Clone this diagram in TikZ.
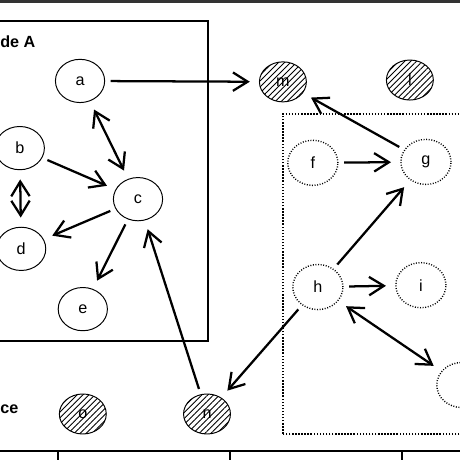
\documentclass[tikz,border=0pt]{standalone}
\usepackage{fontspec}
\setmainfont{Liberation Sans}
\usetikzlibrary{arrows.meta,shapes.geometric,patterns.meta}

\begin{document}
\begin{tikzpicture}[
    state/.style={ellipse,draw,line width=0.6pt,minimum width=1.07cm,minimum height=0.94cm,inner sep=0},
    outside/.style={state,pattern={Lines[angle=45,distance=2.6pt,line width=0.55pt]},minimum width=1.02cm,minimum height=0.87cm},
    hidden/.style={state,densely dotted,line width=0.85pt,minimum width=1.09cm,minimum height=0.98cm},
    arr/.style={-{Straight Barb[length=0.32cm,width=0.4cm]},line width=1.4pt,shorten >=0.2cm,shorten <=0.12cm},
    darr/.style={arr,{Straight Barb[length=0.32cm,width=0.4cm]}-{Straight Barb[length=0.32cm,width=0.4cm]},shorten <=0.2cm}]
    \useasboundingbox (0,0) rectangle (10,10);

    % Frame
    \fill[black!80] (-0.1,9.945) rectangle (10.1,10.1);
    \draw[line width=1.1pt] (-0.1,0.2) -- (10.1,0.2);
    \foreach \x in {1.26,5.0,8.74}
        \draw[line width=1.1pt] (\x,0.2) -- (\x,-0.1);

    % Boxes
    \draw[line width=1.1pt] (-0.2,2.59) rectangle (4.52,9.54);
    \draw[densely dotted,line width=0.9pt] (6.15,0.57) rectangle (10.3,7.52);

    % Labels
    \node[anchor=base west,inner sep=0,font=\bfseries] (lblA) at (0,8.96) {de A};
    \node[anchor=base west,inner sep=0,font=\bfseries] (lblB) at (0,1.0) {ce};

    % States in box A
    \node[state] (a) at (1.74,8.24) {a};
    \node[state] (b) at (0.43,6.78) {b};
    \node[state] (c) at (3.0,5.67) {c};
    \node[state] (d) at (0.46,4.59) {d};
    \node[state] (e) at (1.80,3.28) {e};

    % Hidden states
    \node[hidden] (f) at (6.80,6.46) {f};
    \node[hidden] (g) at (9.26,6.48) {g};
    \node[hidden] (h) at (6.91,3.76) {h};
    \node[hidden] (i) at (9.15,3.80) {i};
    \node[hidden] (j) at (10.04,1.63) {};

    % Outside states
    \node[outside] (m) at (6.15,8.22) {m};
    \node[outside] (l) at (8.91,8.26) {l};
    \node[outside] (o) at (1.80,1.0) {o};
    \node[outside] (n) at (4.5,1.0) {n};

    % Transitions
    \draw[arr] (a) -- (m);
    \draw[darr] (a) -- (c);
    \draw[arr] (b) -- (c);
    \draw[darr] (b) -- (d);
    \draw[arr] (c) -- (d);
    \draw[arr] (c) -- (e);
    \draw[arr] (n) -- (c);
    \draw[arr] (g) -- (m);
    \draw[arr] (f) -- (g);
    \draw[arr] (h) -- (g);
    \draw[arr] (h) -- (i);
    \draw[arr] (h) -- (n);
    \draw[darr] (h) -- (j);
\end{tikzpicture}
\end{document}
